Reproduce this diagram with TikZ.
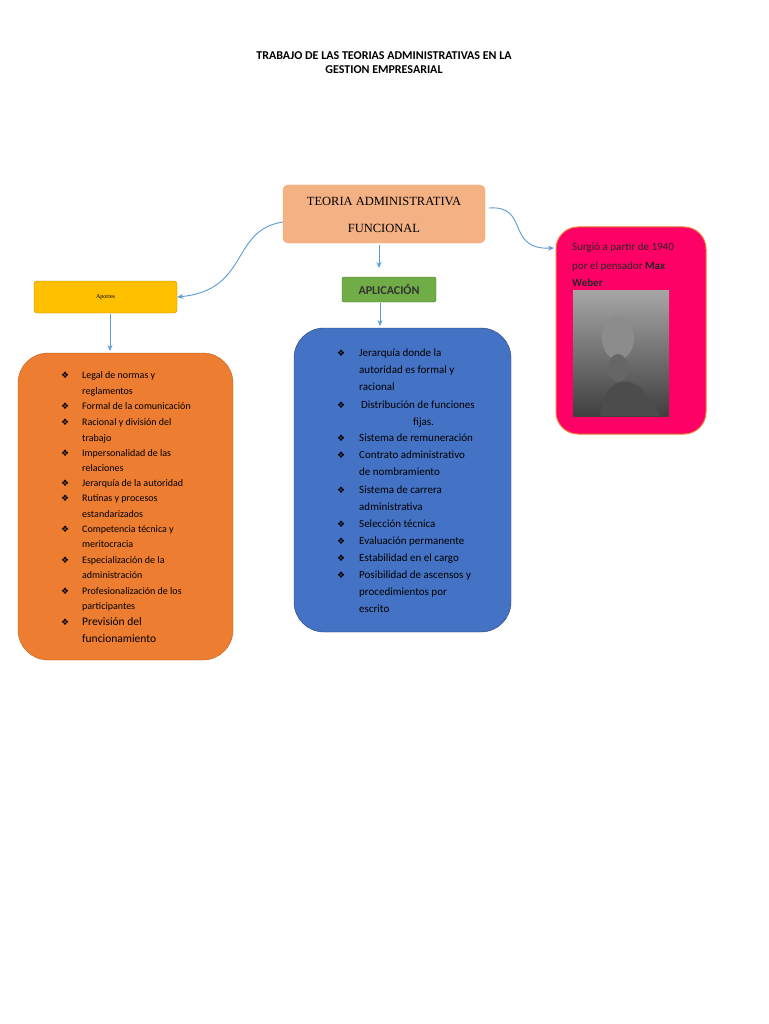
\documentclass[tikz,border=0pt]{standalone}
\usepackage{fontspec}
\setmainfont{Carlito}
\newfontfamily\serifx{Liberation Serif}
\newfontfamily\djsans{DejaVu Sans}
\usetikzlibrary{arrows.meta}
\definecolor{arr}{HTML}{5B9BD5}
\definecolor{salmon}{HTML}{F4B183}
\definecolor{gold}{HTML}{FFC000}
\definecolor{grn}{HTML}{70AD47}
\definecolor{org}{HTML}{ED7D31}
\definecolor{blu}{HTML}{4472C4}
\definecolor{pnk}{HTML}{FF0066}
\tikzset{
  conn/.style={draw=arr,line width=0.9pt,-{Stealth[length=6pt,width=5pt]}},
  ln/.style={anchor=base west,inner sep=0pt,font=\fontsize{10}{12}\selectfont,text=black},
  bl/.style={anchor=base west,inner sep=0pt,font=\djsans\fontsize{9}{10}\selectfont},
}
\begin{document}
\begin{tikzpicture}[x=1pt,y=-1pt]
\useasboundingbox (0,0) rectangle (768,1024);
\fill[white] (0,0) rectangle (768,1024);
\node[font=\bfseries\fontsize{12}{14}\selectfont,align=center] (title) at (384,63) {TRABAJO DE LAS TEORIAS ADMINISTRATIVAS EN LA\\GESTION EMPRESARIAL};
% boxes
\draw[draw=org!70,fill=salmon,rounded corners=5pt] (283,185) rectangle (485,243);
\node (main) at (384,214) [minimum width=202pt,minimum height=58pt] {};
\node[font=\serifx\fontsize{12.5}{15}\selectfont] at (384,201) {TEORIA ADMINISTRATIVA};
\node[font=\serifx\fontsize{12.5}{15}\selectfont] at (384,228) {FUNCIONAL};
\node[draw=gold!70!black,fill=gold,rounded corners=3pt,minimum width=143pt,minimum height=32pt,font=\serifx\fontsize{6}{7}\selectfont] (aportes) at (105.5,297) {Aportes};
\node[draw=grn!70!black,fill=grn,rounded corners=2pt,minimum width=94pt,minimum height=25pt,font=\bfseries\fontsize{12}{14}\selectfont,text=black!80] (apl) at (389,289.5) {APLICACIÓN};
\draw[draw=org!80!black,fill=org,rounded corners=30pt] (18,353) rectangle (233,660);
\node (left) at (125.5,506) [minimum width=215pt,minimum height=307pt] {};
\draw[draw=blu!60!black,fill=blu,rounded corners=30pt] (294,328) rectangle (511,632);
\node (mid) at (402.5,480) [minimum width=217pt,minimum height=304pt] {};
\draw[draw=org,line width=1pt,fill=pnk,rounded corners=22pt] (556,227) rectangle (706,434);
\node (pink) at (631,330.5) [minimum width=150pt,minimum height=207pt] {};
% photo
\shade[top color=black!35,bottom color=black!75] (573,290) rectangle (669,416);
\fill[black!70] (600,416) .. controls (605,370) and (640,370) .. (660,416) -- cycle;
\fill[black!45] (618,338) ellipse (16 and 22);
\fill[black!60] (618,368) ellipse (10 and 14);
\node[anchor=base west,inner sep=0pt,font=\fontsize{11}{13}\selectfont,text=black!85] at (572,251) {Surgió a partir de 1940};
\node[anchor=base west,inner sep=0pt,font=\fontsize{11}{13}\selectfont,text=black!85] at (572,269) {por el pensador \textbf{Max}};
\node[anchor=base west,inner sep=0pt,font=\bfseries\fontsize{11}{13}\selectfont,text=black!85] at (572,286) {Weber};
% connectors
\draw[conn] (283,222) .. controls (230,230) and (250,290) .. (aportes.east);
\draw[conn] (379,245) -- (379,268);
\draw[conn] (380,303) -- (380,326);
\draw[conn] (110,314) -- (110,351);
\draw[conn] (489,208) .. controls (530,205) and (505,250) .. (554,248);
% left list
\foreach \y in {378,409,425,456,486,501,532,563,594} {\node[bl] at (61,\y) {❖};}
\node[bl] at (61,625) {❖};
\foreach \y/\t in {378/Legal de normas y,394/reglamentos,409/Formal de la comunicación,425/Racional y división del,441/trabajo,456/Impersonalidad de las,471/relaciones,486/Jerarquía de la autoridad,501/Rutinas y procesos,517/estandarizados,532/Competencia técnica y,547/meritocracia,563/Especialización de la,578/administración,594/Profesionalización de los,609/participantes}
  {\node[ln] at (82,\y) {\t};}
\node[ln,font=\fontsize{11.5}{13}\selectfont] at (82,625) {Previsión del};
\node[ln,font=\fontsize{11.5}{13}\selectfont] at (82,642) {funcionamiento};
% middle list
\foreach \y in {356,408,441,458,493,527,544,561,578} {\node[bl] at (337,\y) {❖};}
\foreach \y/\t in {356/Jerarquía donde la,373/autoridad es formal y,390/racional,441/Sistema de remuneración,458/Contrato administrativo,475/de nombramiento,493/Sistema de carrera,510/administrativa,527/Selección técnica,544/Evaluación permanente,561/Estabilidad en el cargo,578/Posibilidad de ascensos y,595/procedimientos por,612/escrito}
  {\node[ln,font=\fontsize{11}{13}\selectfont] at (359,\y) {\t};}
\node[ln,font=\fontsize{11}{13}\selectfont] at (361,408) {Distribución de funciones};
\node[ln,font=\fontsize{11}{13}\selectfont] at (413,425) {fijas.};
\end{tikzpicture}
\end{document}
